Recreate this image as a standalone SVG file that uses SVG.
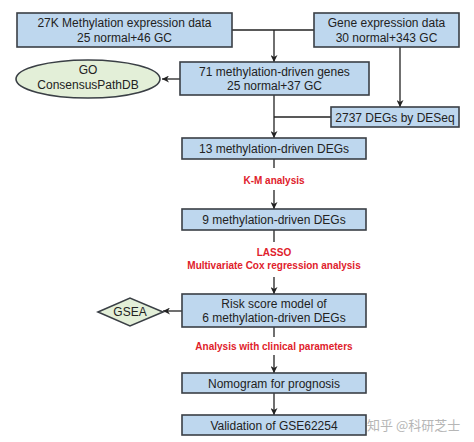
<svg xmlns="http://www.w3.org/2000/svg" width="474" height="442" viewBox="0 0 474 442">
<defs>
<marker id="ah" viewBox="0 0 10 10" refX="10" refY="5" markerWidth="7" markerHeight="7" orient="auto" markerUnits="userSpaceOnUse">
<path d="M0,0 L10,5 L0,10 L3,5 Z" fill="#222"/>
</marker>
<style>
.box{fill:#bed7ee;stroke:#3a3f45;stroke-width:1.6}
.green{fill:#e3efd8;stroke:#3a3f45;stroke-width:1.6}
.t{font-family:"Liberation Sans",Arial,sans-serif;font-size:12px;fill:#222;text-anchor:middle}
.r{font-family:"Liberation Sans",Arial,sans-serif;font-size:10px;font-weight:bold;fill:#e0212b;text-anchor:middle}
.c{fill:none;stroke:#222;stroke-width:1.3}
</style>
</defs>
<rect width="474" height="442" fill="#fff"/>
<g id="connectors">
<path class="c" d="M232,30 H314"/>
<path class="c" d="M274,30 V62" marker-end="url(#ah)"/>
<path class="c" d="M400,47 V107" marker-end="url(#ah)"/>
<path class="c" d="M180,79 H162" marker-end="url(#ah)"/>
<path class="c" d="M274,95 V138" marker-end="url(#ah)"/>
<path class="c" d="M331,117 H274"/>
<path class="c" d="M274,159 V168"/>
<path class="c" d="M274,190 V209" marker-end="url(#ah)"/>
<path class="c" d="M274,230 V242"/>
<path class="c" d="M274,277 V294" marker-end="url(#ah)"/>
<path class="c" d="M182,311 H163" marker-end="url(#ah)"/>
<path class="c" d="M274,327 V337"/>
<path class="c" d="M274,355 V373" marker-end="url(#ah)"/>
<path class="c" d="M274,393 V415" marker-end="url(#ah)"/>
</g>
<g id="n1"><rect class="box" x="17" y="13" width="215" height="34"/><text class="t" x="124.5" y="27">27K Methylation expression data</text><text class="t" x="124.5" y="42">25 normal+46 GC</text></g>
<g id="n2"><rect class="box" x="314" y="13" width="145" height="34"/><text class="t" x="386.5" y="27">Gene expression data</text><text class="t" x="386.5" y="42">30 normal+343 GC</text></g>
<g id="n3"><rect class="box" x="180" y="62" width="189" height="33"/><text class="t" x="274.5" y="76">71 methylation-driven genes</text><text class="t" x="274.5" y="90">25 normal+37 GC</text></g>
<g id="n4"><ellipse class="green" cx="88" cy="79" rx="72" ry="19"/><text class="t" x="88" y="74">GO</text><text class="t" x="88" y="89">ConsensusPathDB</text></g>
<g id="n5"><rect class="box" x="331" y="107" width="128" height="20"/><text class="t" x="395" y="121.5">2737 DEGs by DESeq</text></g>
<g id="n6"><rect class="box" x="182" y="138" width="184" height="21"/><text class="t" x="274" y="153">13 methylation-driven DEGs</text></g>
<text class="r" x="274" y="184">K-M analysis</text>
<g id="n7"><rect class="box" x="182" y="209" width="184" height="21"/><text class="t" x="274" y="224">9 methylation-driven DEGs</text></g>
<text class="r" x="274" y="256">LASSO</text>
<text class="r" x="274" y="269">Multivariate Cox regression analysis</text>
<g id="n8"><rect class="box" x="182" y="294" width="184" height="33"/><text class="t" x="274" y="308">Risk score model of</text><text class="t" x="274" y="322">6 methylation-driven DEGs</text></g>
<g id="n9"><polygon class="green" points="98,312 130,298 163,312 130,326"/><text class="t" x="130" y="316">GSEA</text></g>
<text class="r" x="274" y="350">Analysis with clinical parameters</text>
<g id="n10"><rect class="box" x="182" y="373" width="184" height="20"/><text class="t" x="274" y="387.5">Nomogram for prognosis</text></g>
<g id="n11"><rect class="box" x="182" y="415" width="184" height="20"/><text class="t" x="274" y="429.5">Validation of GSE62254</text></g>
<text x="367" y="430" font-family="'Noto Sans CJK SC',sans-serif" font-size="13" fill="#aaa" opacity="0.85">知乎 @科研芝士</text>
</svg>
